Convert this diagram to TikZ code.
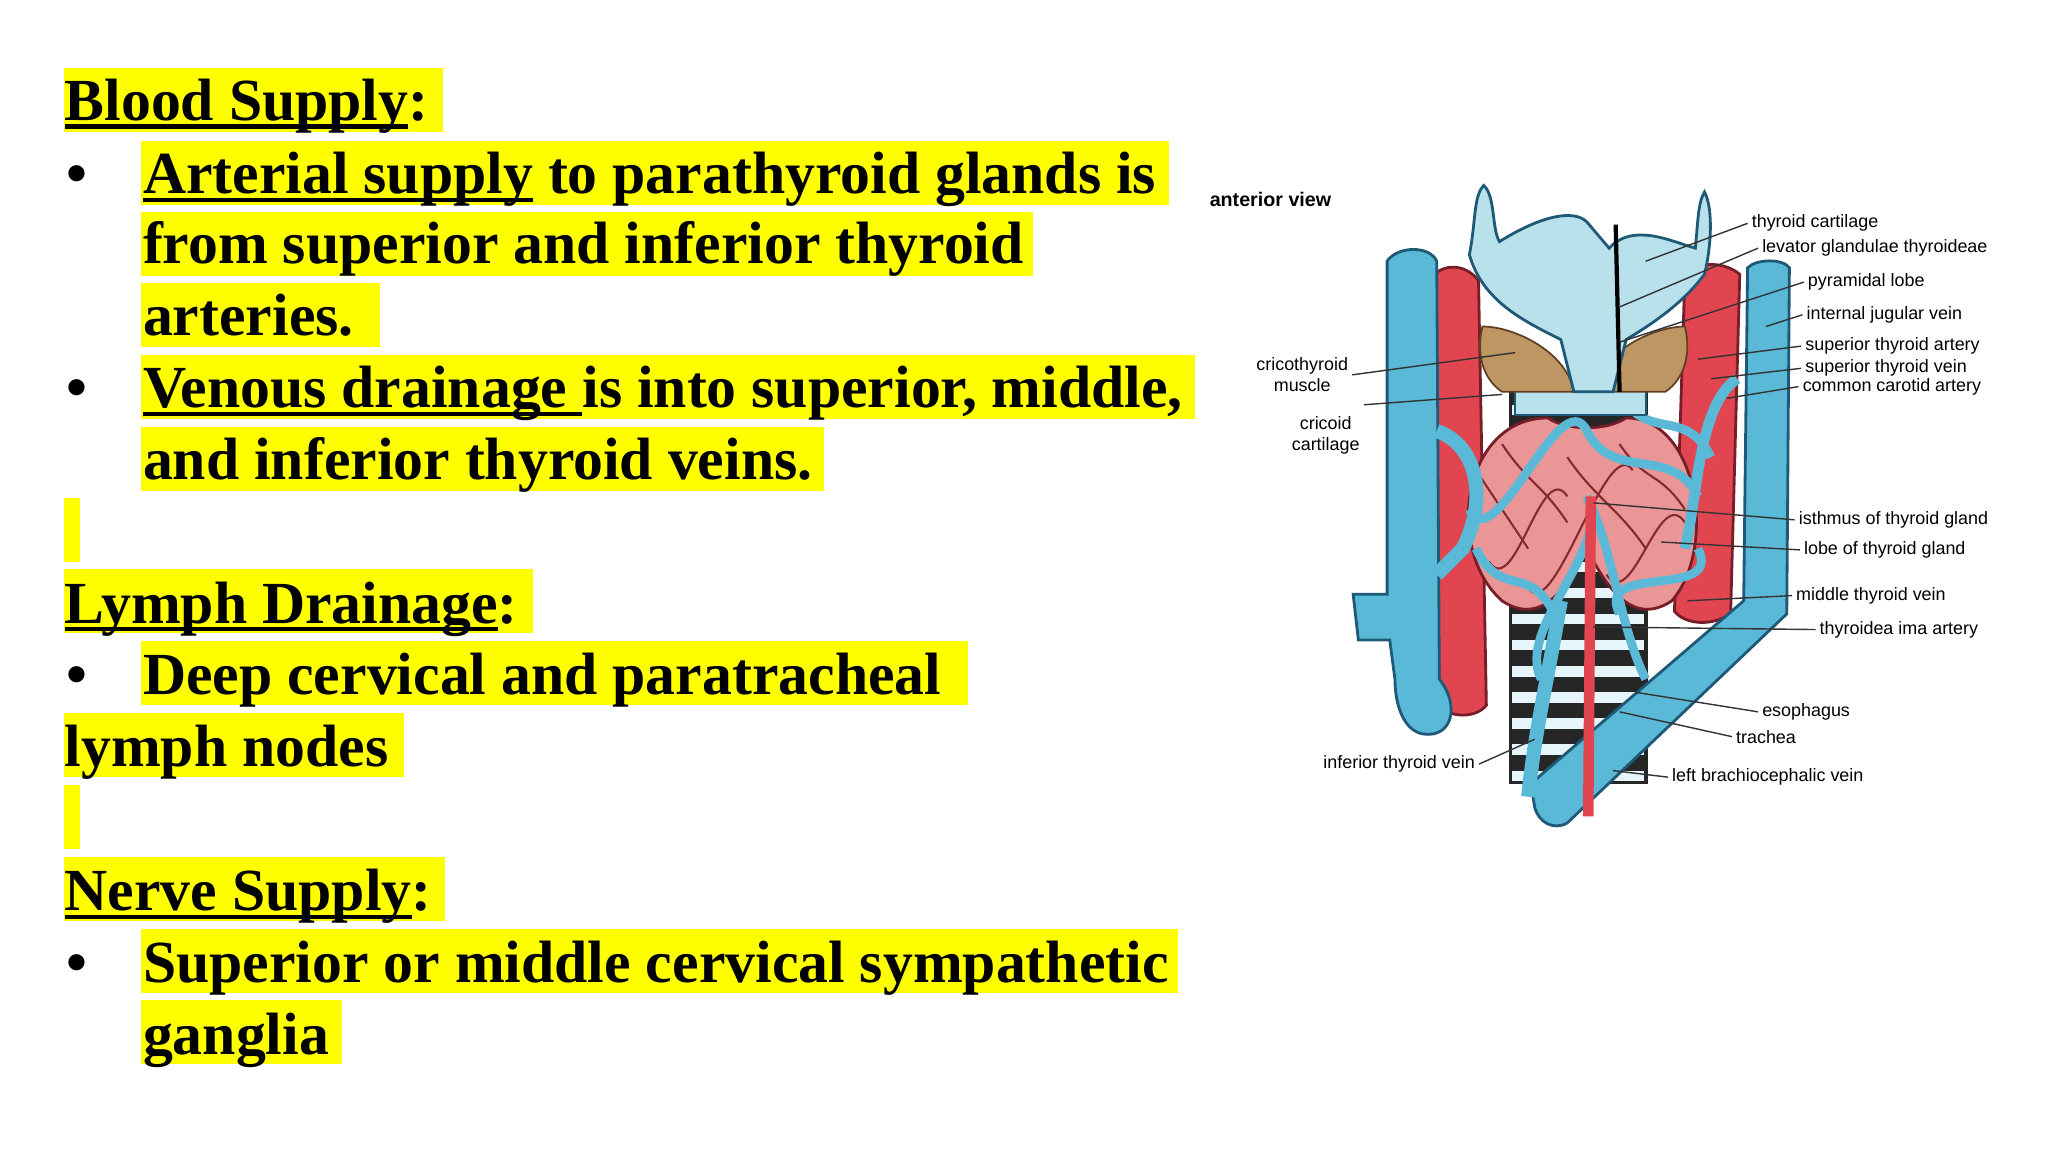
\documentclass[tikz,border=0pt]{standalone}
\usepackage{fontspec}
\setmainfont{Liberation Serif}
\newfontfamily\lab{Liberation Sans}
\definecolor{hl}{RGB}{255,255,0}
\definecolor{vein}{RGB}{90,185,215}
\definecolor{veind}{RGB}{30,90,120}
\definecolor{art}{RGB}{225,70,80}
\definecolor{artd}{RGB}{120,30,40}
\definecolor{cart}{RGB}{185,225,235}
\definecolor{tan}{RGB}{190,150,100}
\definecolor{gland}{RGB}{235,150,150}
\newcommand{\ul}[1]{\setbox0\hbox{#1}\rlap{\rule[-2.4pt]{\wd0}{1.2pt}}\box0\relax}
\begin{document}
\begin{tikzpicture}[x=0.01306cm,y=-0.01306cm,
  txt/.style={anchor=base west,inner sep=0pt,font=\fontsize{17}{20}\selectfont\bfseries},
  lb/.style={font=\lab\fontsize{5.1}{6}\selectfont,inner sep=1pt},
  ld/.style={draw=black!80,line width=0.4pt},
  vn/.style={fill=vein,draw=veind,line width=0.8pt},
  ar/.style={fill=art,draw=artd,line width=0.8pt}]
\useasboundingbox (0,0) rectangle (1568,882);
% highlights
\fill[hl] (49,52) rectangle (339,101);
\fill[hl] (108,108) rectangle (895,157);
\fill[hl] (108,162) rectangle (791,211);
\fill[hl] (108,217) rectangle (291,266);
\fill[hl] (108,272) rectangle (915,321);
\fill[hl] (108,327) rectangle (631,376);
\fill[hl] (49,381) rectangle (61,430);
\fill[hl] (49,436) rectangle (408,485);
\fill[hl] (108,491) rectangle (741,540);
\fill[hl] (49,546) rectangle (309,595);
\fill[hl] (49,601) rectangle (61,650);
\fill[hl] (49,656) rectangle (341,705);
\fill[hl] (108,711) rectangle (902,760);
\fill[hl] (108,766) rectangle (262,815);
% text
\node[txt] (t1) at (49,92) {\ul{Blood Supply}:};
\node[txt] (b1) at (50,148) {•};
\node[txt] (t2) at (109,148) {\ul{Arterial supply} to parathyroid glands is};
\node[txt] (t3) at (109,202) {from superior and inferior thyroid};
\node[txt] (t4) at (109,257) {arteries.};
\node[txt] (b2) at (50,312) {•};
\node[txt] (t5) at (109,312) {\ul{Venous drainage\ }is into superior, middle,};
\node[txt] (t6) at (109,367) {and inferior thyroid veins.};
\node[txt] (t7) at (49,477) {\ul{Lymph Drainage}:};
\node[txt] (b3) at (50,532) {•};
\node[txt] (t8) at (109,532) {Deep cervical and paratracheal};
\node[txt] (t9) at (49,587) {lymph nodes};
\node[txt] (t10) at (49,697) {\ul{Nerve Supply}:};
\node[txt] (b4) at (50,752) {•};
\node[txt] (t11) at (109,752) {Superior or middle cervical sympathetic};
\node[txt] (t12) at (109,807) {ganglia};
% ---- diagram ----
\draw[ar] (1098,210) .. controls (1110,200) and (1125,205) .. (1132,215) -- (1138,540) .. controls (1130,550) and (1110,550) .. (1102,540) -- cycle;
\draw[vn] (1062,200) .. controls (1070,188) and (1095,188) .. (1100,200) -- (1102,520) .. controls (1118,540) and (1112,565) .. (1090,562) .. controls (1075,560) and (1068,540) .. (1068,520) -- (1064,490) -- (1040,490) -- (1036,455) -- (1062,455) -- cycle;
\draw[ar] (1290,210) .. controls (1300,200) and (1320,200) .. (1332,210) -- (1325,470) .. controls (1310,480) and (1290,478) .. (1282,468) -- cycle;
\fill[black!85] (1155,300) rectangle (1262,600);
\foreach \yy in {310,330,...,590} \fill[white!85!vein] (1158,\yy) rectangle (1259,\yy+8);
\draw[vn] (1338,205) .. controls (1345,198) and (1365,198) .. (1370,205) -- (1368,470) -- (1200,630) .. controls (1190,636) and (1178,630) .. (1175,618) -- (1172,600) -- (1335,460) -- cycle;
\draw[ar,fill=gland] (1185,320) .. controls (1120,320) and (1105,420) .. (1150,460) .. controls (1180,480) and (1200,450) .. (1215,420) .. controls (1230,450) and (1250,480) .. (1280,460) .. controls (1315,420) and (1300,320) .. (1245,320) .. controls (1230,330) and (1200,330) .. cycle;
\foreach \a/\b/\c/\d in {1130/360/1170/420,1150/340/1200/400,1200/350/1260/420,1240/340/1290/390,1140/430/1200/380,1230/440/1290/400,1170/450/1250/360}
  \draw[art!60!black,line width=0.6pt] (\a,\b) .. controls (\a+20,\b+30) and (\c-20,\d-30) .. (\c,\d);
\foreach \a/\b/\c/\d in {1125/390/1215/330,1215/330/1300/380,1130/420/1190/470,1300/420/1240/470,1215/380/1180/520,1215/380/1260/520,1240/300/1310/350}
  \draw[vein,line width=2.5pt] (\a,\b) .. controls (\a+20,\b+40) and (\c-20,\d-40) .. (\c,\d);
\draw[vein,line width=4pt] (1195,460) .. controls (1185,520) and (1175,560) .. (1170,610);
\draw[vein,line width=4pt] (1100,330) .. controls (1130,340) and (1140,380) .. (1120,420) -- (1100,440);
\draw[vein,line width=3pt] (1330,290) .. controls (1300,310) and (1300,380) .. (1290,420);
\draw[art,line width=3pt] (1218,380) -- (1216,625);
\draw[fill=cart,draw=veind,line width=0.6pt] (1160,290) rectangle (1260,318);
\draw[fill=tan,draw=brown!50!black,line width=0.5pt] (1135,250) .. controls (1160,250) and (1200,270) .. (1205,300) -- (1150,300) .. controls (1135,290) and (1130,270) .. cycle;
\draw[fill=tan,draw=brown!50!black,line width=0.5pt] (1290,250) .. controls (1265,250) and (1225,270) .. (1220,300) -- (1275,300) .. controls (1290,290) and (1295,270) .. cycle;
\draw[fill=cart,draw=veind,line width=0.8pt] (1125,195) .. controls (1130,170) and (1128,150) .. (1136,142) .. controls (1145,150) and (1142,175) .. (1148,185) .. controls (1180,165) and (1205,160) .. (1215,170) -- (1232,190) .. controls (1250,170) and (1280,185) .. (1298,190) .. controls (1300,170) and (1300,155) .. (1305,147) .. controls (1312,160) and (1310,190) .. (1305,210) .. controls (1290,230) and (1270,245) .. (1245,260) -- (1235,300) -- (1205,300) -- (1195,260) .. controls (1165,245) and (1135,230) .. cycle;
\draw[black,line width=1.2pt] (1237,172) -- (1240,300);
% labels
\node[lb,anchor=west,font=\lab\bfseries\fontsize{5.6}{7}\selectfont] (av) at (923,153) {anterior view};
\coordinate (p1) at (1260,200); \node[lb,anchor=west] (l1) at (1338,171) {thyroid cartilage};
\coordinate (p2) at (1240,235); \node[lb,anchor=west] (l2) at (1346,190) {levator glandulae thyroideae};
\coordinate (p3) at (1240,262); \node[lb,anchor=west] (l3) at (1381,216) {pyramidal lobe};
\coordinate (p4) at (1352,250); \node[lb,anchor=west] (l4) at (1380,241) {internal jugular vein};
\coordinate (p5) at (1300,275); \node[lb,anchor=west] (l5) at (1379,265) {superior thyroid artery};
\coordinate (p6) at (1310,290); \node[lb,anchor=west] (l6) at (1379,282) {superior thyroid vein};
\coordinate (p7) at (1322,305); \node[lb,anchor=west] (l7) at (1377,296) {common carotid artery};
\coordinate (p8) at (1220,385); \node[lb,anchor=west] (l8) at (1374,398) {isthmus of thyroid gland};
\coordinate (p9) at (1272,415); \node[lb,anchor=west] (l9) at (1378,421) {lobe of thyroid gland};
\coordinate (p10) at (1292,460); \node[lb,anchor=west] (l10) at (1372,456) {middle thyroid vein};
\coordinate (p11) at (1220,480); \node[lb,anchor=west] (l11) at (1390,482) {thyroidea ima artery};
\coordinate (p12) at (1252,530); \node[lb,anchor=west] (l12) at (1346,545) {esophagus};
\coordinate (p13) at (1240,545); \node[lb,anchor=west] (l13) at (1326,564) {trachea};
\coordinate (p14) at (1235,590); \node[lb,anchor=west] (l14) at (1277,595) {left brachiocephalic vein};
\coordinate (p15) at (1160,270); \node[lb,align=center] (l15) at (997,287) {cricothyroid\\muscle};
\coordinate (p16) at (1150,302); \node[lb,align=center] (l16) at (1015,333) {cricoid\\cartilage};
\coordinate (p17) at (1175,566); \node[lb,anchor=west] (l17) at (1010,585) {inferior thyroid vein};
\foreach \i in {1,...,14} \draw[ld] (l\i.west) -- (p\i);
\draw[ld] (l15.east) -- (p15);
\draw[ld] ([yshift=2pt]l16.north east) -- (p16);
\draw[ld] (l17.east) -- (p17);
\end{tikzpicture}
\end{document}
